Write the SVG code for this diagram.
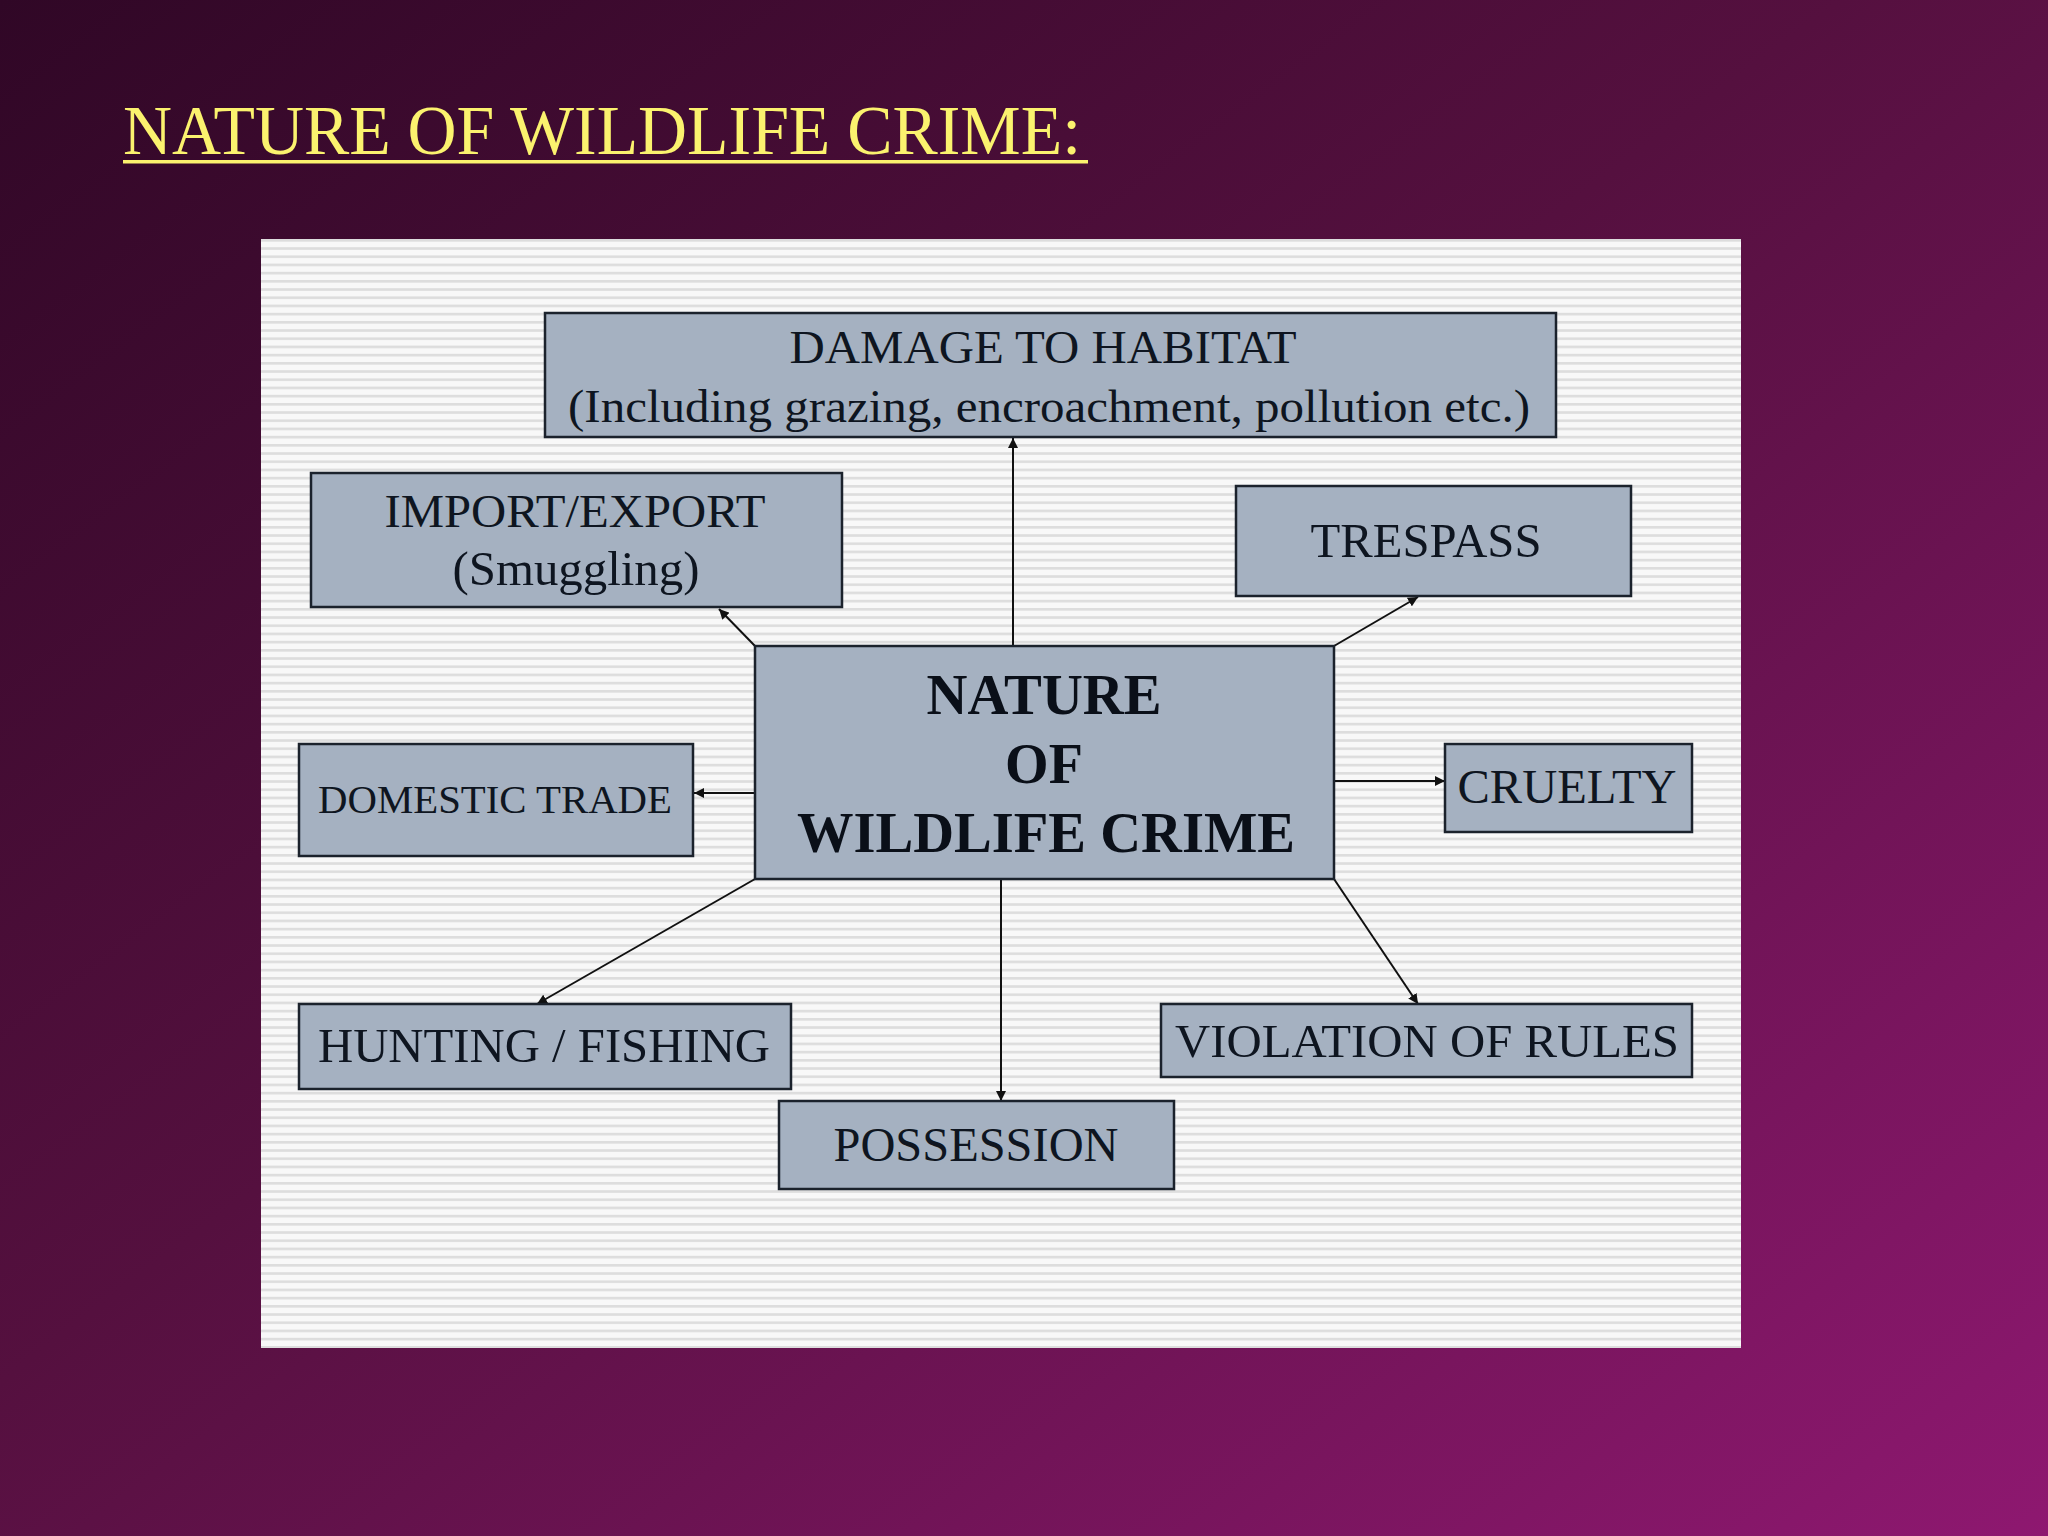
<svg xmlns="http://www.w3.org/2000/svg" width="2048" height="1536" viewBox="0 0 2048 1536">
<defs>
<linearGradient id="bg" x1="0" y1="0" x2="1" y2="1">
<stop offset="0" stop-color="#300726"/>
<stop offset="0.45" stop-color="#55103f"/>
<stop offset="1" stop-color="#8e1870"/>
</linearGradient>
<pattern id="stripes" x="0" y="239" width="16" height="8.2" patternUnits="userSpaceOnUse">
<rect x="0" y="0" width="16" height="8.2" fill="#f8f8f8"/>
<rect x="0" y="0" width="16" height="2.6" fill="#dddddd"/>
</pattern>
<marker id="ah" viewBox="0 0 10 10" refX="10" refY="5" markerWidth="10" markerHeight="10" markerUnits="userSpaceOnUse" orient="auto">
<path d="M0,0 L10,5 L0,10 z" fill="#111"/>
</marker>
<style>
.box{fill:#a5b1c1;stroke:#1b222c;stroke-width:2.5}
.t{font-family:"Liberation Serif","Times New Roman",serif;fill:#0e1520;text-anchor:middle}
.tb{font-family:"Liberation Serif","Times New Roman",serif;fill:#0a0f18;text-anchor:middle;font-weight:bold;font-size:56px}
.c{stroke:#111;stroke-width:2;fill:none;marker-end:url(#ah)}
</style>
</defs>
<rect x="0" y="0" width="2048" height="1536" fill="url(#bg)"/>
<g id="title">
<text x="123" y="154" font-family="Liberation Serif, Times New Roman, serif" font-size="69" fill="#fbf26e" textLength="958" lengthAdjust="spacingAndGlyphs">NATURE OF WILDLIFE CRIME:</text>
<rect x="123" y="160" width="965" height="3.5" fill="#fbf26e"/>
</g>
<rect id="panel" x="261" y="239" width="1480" height="1109" fill="url(#stripes)"/>
<g id="connectors">
<line class="c" x1="1013" y1="646" x2="1013" y2="438"/>
<line class="c" x1="755" y1="646" x2="719" y2="609"/>
<line class="c" x1="1334" y1="646" x2="1418" y2="597"/>
<line class="c" x1="755" y1="793" x2="694" y2="793"/>
<line class="c" x1="1334" y1="781" x2="1445" y2="781"/>
<line class="c" x1="755" y1="879" x2="537" y2="1004"/>
<line class="c" x1="1001" y1="879" x2="1001" y2="1101"/>
<line class="c" x1="1334" y1="879" x2="1418" y2="1004"/>
</g>
<g id="center">
<rect class="box" x="755" y="646" width="579" height="233"/>
<text class="tb" x="1044" y="714" textLength="235" lengthAdjust="spacingAndGlyphs">NATURE</text>
<text class="tb" x="1044" y="783">OF</text>
<text class="tb" x="1046" y="852" textLength="498" lengthAdjust="spacingAndGlyphs">WILDLIFE CRIME</text>
</g>
<g id="damage">
<rect class="box" x="545" y="313" width="1011" height="124"/>
<text class="t" x="1043" y="363" font-size="47" textLength="507" lengthAdjust="spacingAndGlyphs">DAMAGE TO HABITAT</text>
<text class="t" x="1049" y="422" font-size="47" textLength="962" lengthAdjust="spacingAndGlyphs">(Including grazing, encroachment, pollution etc.)</text>
</g>
<g id="import">
<rect class="box" x="311" y="473" width="531" height="134"/>
<text class="t" x="575" y="527" font-size="47" textLength="381" lengthAdjust="spacingAndGlyphs">IMPORT/EXPORT</text>
<text class="t" x="576" y="585" font-size="48" textLength="247" lengthAdjust="spacingAndGlyphs">(Smuggling)</text>
</g>
<g id="trespass">
<rect class="box" x="1236" y="486" width="395" height="110"/>
<text class="t" x="1426" y="557" font-size="48" textLength="231" lengthAdjust="spacingAndGlyphs">TRESPASS</text>
</g>
<g id="domestic">
<rect class="box" x="299" y="744" width="394" height="112"/>
<text class="t" x="495" y="813" font-size="39" textLength="354" lengthAdjust="spacingAndGlyphs">DOMESTIC TRADE</text>
</g>
<g id="cruelty">
<rect class="box" x="1445" y="744" width="247" height="88"/>
<text class="t" x="1567" y="803" font-size="47.5" textLength="219" lengthAdjust="spacingAndGlyphs">CRUELTY</text>
</g>
<g id="hunting">
<rect class="box" x="299" y="1004" width="492" height="85"/>
<text class="t" x="544" y="1062" font-size="48.5" textLength="452" lengthAdjust="spacingAndGlyphs">HUNTING / FISHING</text>
</g>
<g id="violation">
<rect class="box" x="1161" y="1004" width="531" height="73"/>
<text class="t" x="1427" y="1057" font-size="47.4" textLength="504" lengthAdjust="spacingAndGlyphs">VIOLATION OF RULES</text>
</g>
<g id="possession">
<rect class="box" x="779" y="1101" width="395" height="88"/>
<text class="t" x="976" y="1161" font-size="47.5" textLength="285" lengthAdjust="spacingAndGlyphs">POSSESSION</text>
</g>
</svg>
